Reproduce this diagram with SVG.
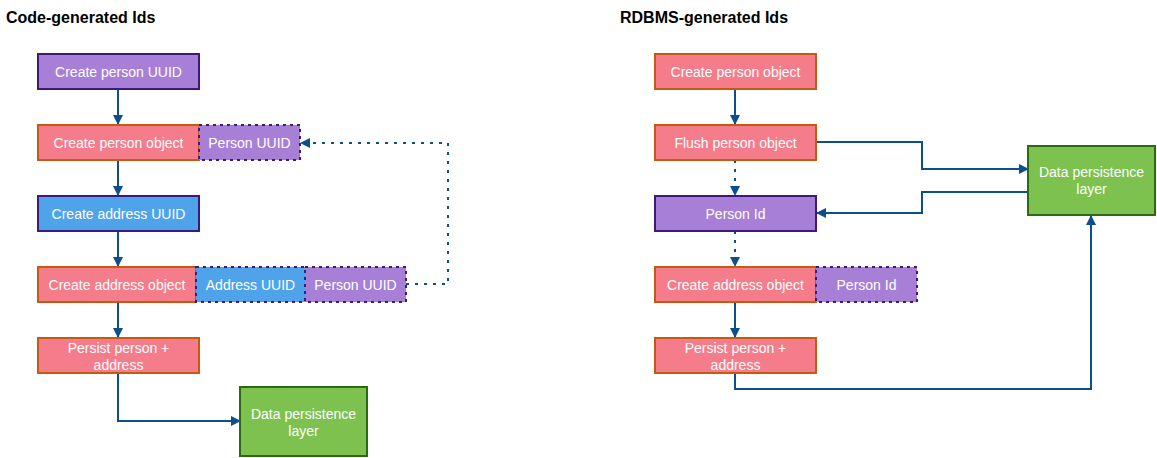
<svg xmlns="http://www.w3.org/2000/svg" width="1157" height="458" viewBox="0 0 1157 458">
<style>
.t{font-family:"Liberation Sans",Arial,sans-serif;font-size:14px;fill:#fff;text-anchor:middle}
.h{font-family:"Liberation Sans",Arial,sans-serif;font-size:16px;font-weight:bold;fill:#000}
.pu{fill:#a77fd7;stroke:#3d1a78;stroke-width:2}
.pk{fill:#f47c8b;stroke:#c55a11;stroke-width:2}
.bl{fill:#4fa3ea;stroke:#3d1a78;stroke-width:2}
.gr{fill:#7dc24f;stroke:#2d6a13;stroke-width:2}
.dpu{fill:#a77fd7;stroke:#3d1a78;stroke-width:2;stroke-dasharray:3 4}
.dbl{fill:#4fa3ea;stroke:#3d1a78;stroke-width:2;stroke-dasharray:3 4}
.c{fill:none;stroke:#0b4f8c;stroke-width:2}
.dot{stroke-dasharray:3 6}
</style>
<defs>
<marker id="a" markerWidth="10" markerHeight="10" refX="9" refY="5" orient="auto" markerUnits="userSpaceOnUse">
<path d="M0,0 L10,5 L0,10 Z" fill="#0b4f8c"/>
</marker>
</defs>
<text class="h" x="6" y="23">Code-generated Ids</text>
<text class="h" x="620" y="23">RDBMS-generated Ids</text>

<g id="connectors">
<path class="c" d="M118,89 V124" marker-end="url(#a)"/>
<path class="c" d="M118,160 V195" marker-end="url(#a)"/>
<path class="c" d="M118,231 V266" marker-end="url(#a)"/>
<path class="c" d="M118,302 V337" marker-end="url(#a)"/>
<path class="c" d="M118,373 V421 H240" marker-end="url(#a)"/>
<path class="c dot" d="M406,284 H448 V143 H301" marker-end="url(#a)"/>
<path class="c" d="M735,89 V124" marker-end="url(#a)"/>
<path class="c dot" d="M735,160 V195" marker-end="url(#a)"/>
<path class="c dot" d="M735,231 V266" marker-end="url(#a)"/>
<path class="c" d="M735,302 V337" marker-end="url(#a)"/>
<path class="c" d="M816,142 H922 V169 H1028" marker-end="url(#a)"/>
<path class="c" d="M1028,192 H922 V213 H817" marker-end="url(#a)"/>
<path class="c" d="M735,373 V389 H1091 V216" marker-end="url(#a)"/>
</g>

<g id="l-create-person-uuid"><rect class="pu" x="38" y="54" width="161" height="35"/><text class="t" x="118.5" y="76.5">Create person UUID</text></g>
<g id="l-create-person-object"><rect class="pk" x="38" y="125" width="161" height="35"/><text class="t" x="118.5" y="147.5">Create person object</text></g>
<g id="l-person-uuid"><rect class="dpu" x="199" y="125" width="101" height="35"/><text class="t" x="249.5" y="147.5">Person UUID</text></g>
<g id="l-create-address-uuid"><rect class="bl" x="38" y="196" width="161" height="35"/><text class="t" x="118.5" y="218.5">Create address UUID</text></g>
<g id="l-create-address-object"><rect class="pk" x="38" y="267" width="158" height="35"/><text class="t" x="117" y="289.5">Create address object</text></g>
<g id="l-address-uuid"><rect class="dbl" x="196" y="267" width="109" height="35"/><text class="t" x="250.5" y="289.5">Address UUID</text></g>
<g id="l-person-uuid-2"><rect class="dpu" x="305" y="267" width="101" height="35"/><text class="t" x="355.5" y="289.5">Person UUID</text></g>
<g id="l-persist"><rect class="pk" x="38" y="338" width="161" height="35"/><text class="t" x="118.5" y="353">Persist person +</text><text class="t" x="118.5" y="370">address</text></g>
<g id="l-data"><rect class="gr" x="240" y="387" width="127" height="69"/><text class="t" x="303.5" y="419">Data persistence</text><text class="t" x="303.5" y="436">layer</text></g>

<g id="r-create-person-object"><rect class="pk" x="655" y="54" width="161" height="35"/><text class="t" x="735.5" y="76.5">Create person object</text></g>
<g id="r-flush"><rect class="pk" x="655" y="125" width="161" height="35"/><text class="t" x="735.5" y="147.5">Flush person object</text></g>
<g id="r-person-id"><rect class="pu" x="655" y="196" width="161" height="35"/><text class="t" x="735.5" y="218.5">Person Id</text></g>
<g id="r-create-address-object"><rect class="pk" x="655" y="267" width="161" height="35"/><text class="t" x="735.5" y="289.5">Create address object</text></g>
<g id="r-person-id-2"><rect class="dpu" x="816" y="267" width="101" height="35"/><text class="t" x="866.5" y="289.5">Person Id</text></g>
<g id="r-persist"><rect class="pk" x="655" y="338" width="161" height="35"/><text class="t" x="735.5" y="353">Persist person +</text><text class="t" x="735.5" y="370">address</text></g>
<g id="r-data"><rect class="gr" x="1028" y="146" width="127" height="69"/><text class="t" x="1091.5" y="177">Data persistence</text><text class="t" x="1091.5" y="194">layer</text></g>
</svg>
